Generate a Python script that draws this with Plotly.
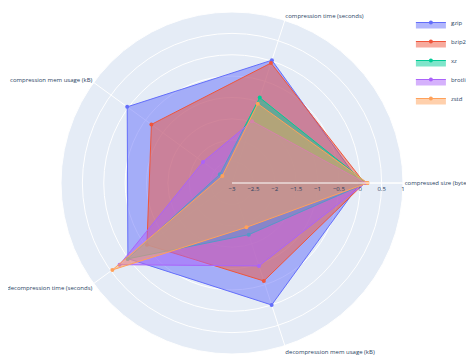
import plotly.graph_objects as go

categories = ['compressed size (bytes)', 'compression time (seconds)',
              'compression mem usage (kB)', 'decompression time (seconds)',
              'decompression mem usage (kB)']

names = ['gzip', 'bzip2', 'xz', 'brotli', 'zstd']
gzip = [0.0, 0.02, 0.03, 0.01, 0.0]
bzip2 = [0.1, -0.05, -0.67, -0.54, -0.59]
xz = [0.15, -0.9, -2.65, 0.02, -1.73]
brotli = [0.12, -1.48, -2.16, 0.25, -0.96]
zstd = [0.17, -1.05, -2.72, 0.46, -1.91]
series = [gzip, bzip2, xz, brotli, zstd]

radial_ticks = [-3, -2.5, -2, -1.5, -1, -0.5, 0, 0.5, 1]

fig = go.Figure()
for name, vals in zip(names, series):
    fig.add_trace(go.Scatterpolar(
        r=vals + [vals[0]],
        theta=categories + [categories[0]],
        fill='toself',
        mode='lines+markers',
        marker=dict(size=4),
        line=dict(width=1),
        name=name,
    ))

fig.update_layout(
    width=474, height=360,
    margin=dict(l=0, r=0, t=0, b=0),
    font=dict(size=6),
    polar=dict(
        domain=dict(x=[53/474, 395/474], y=[14/360, 356/360]),
        radialaxis=dict(range=[-3, 1], tickvals=radial_ticks,
                        tickfont=dict(size=6)),
        angularaxis=dict(tickfont=dict(size=6)),
    ),
    legend=dict(x=0.85, y=1, xanchor='left', yanchor='top',
                font=dict(size=6)),
)

fig.write_html("out.html")
